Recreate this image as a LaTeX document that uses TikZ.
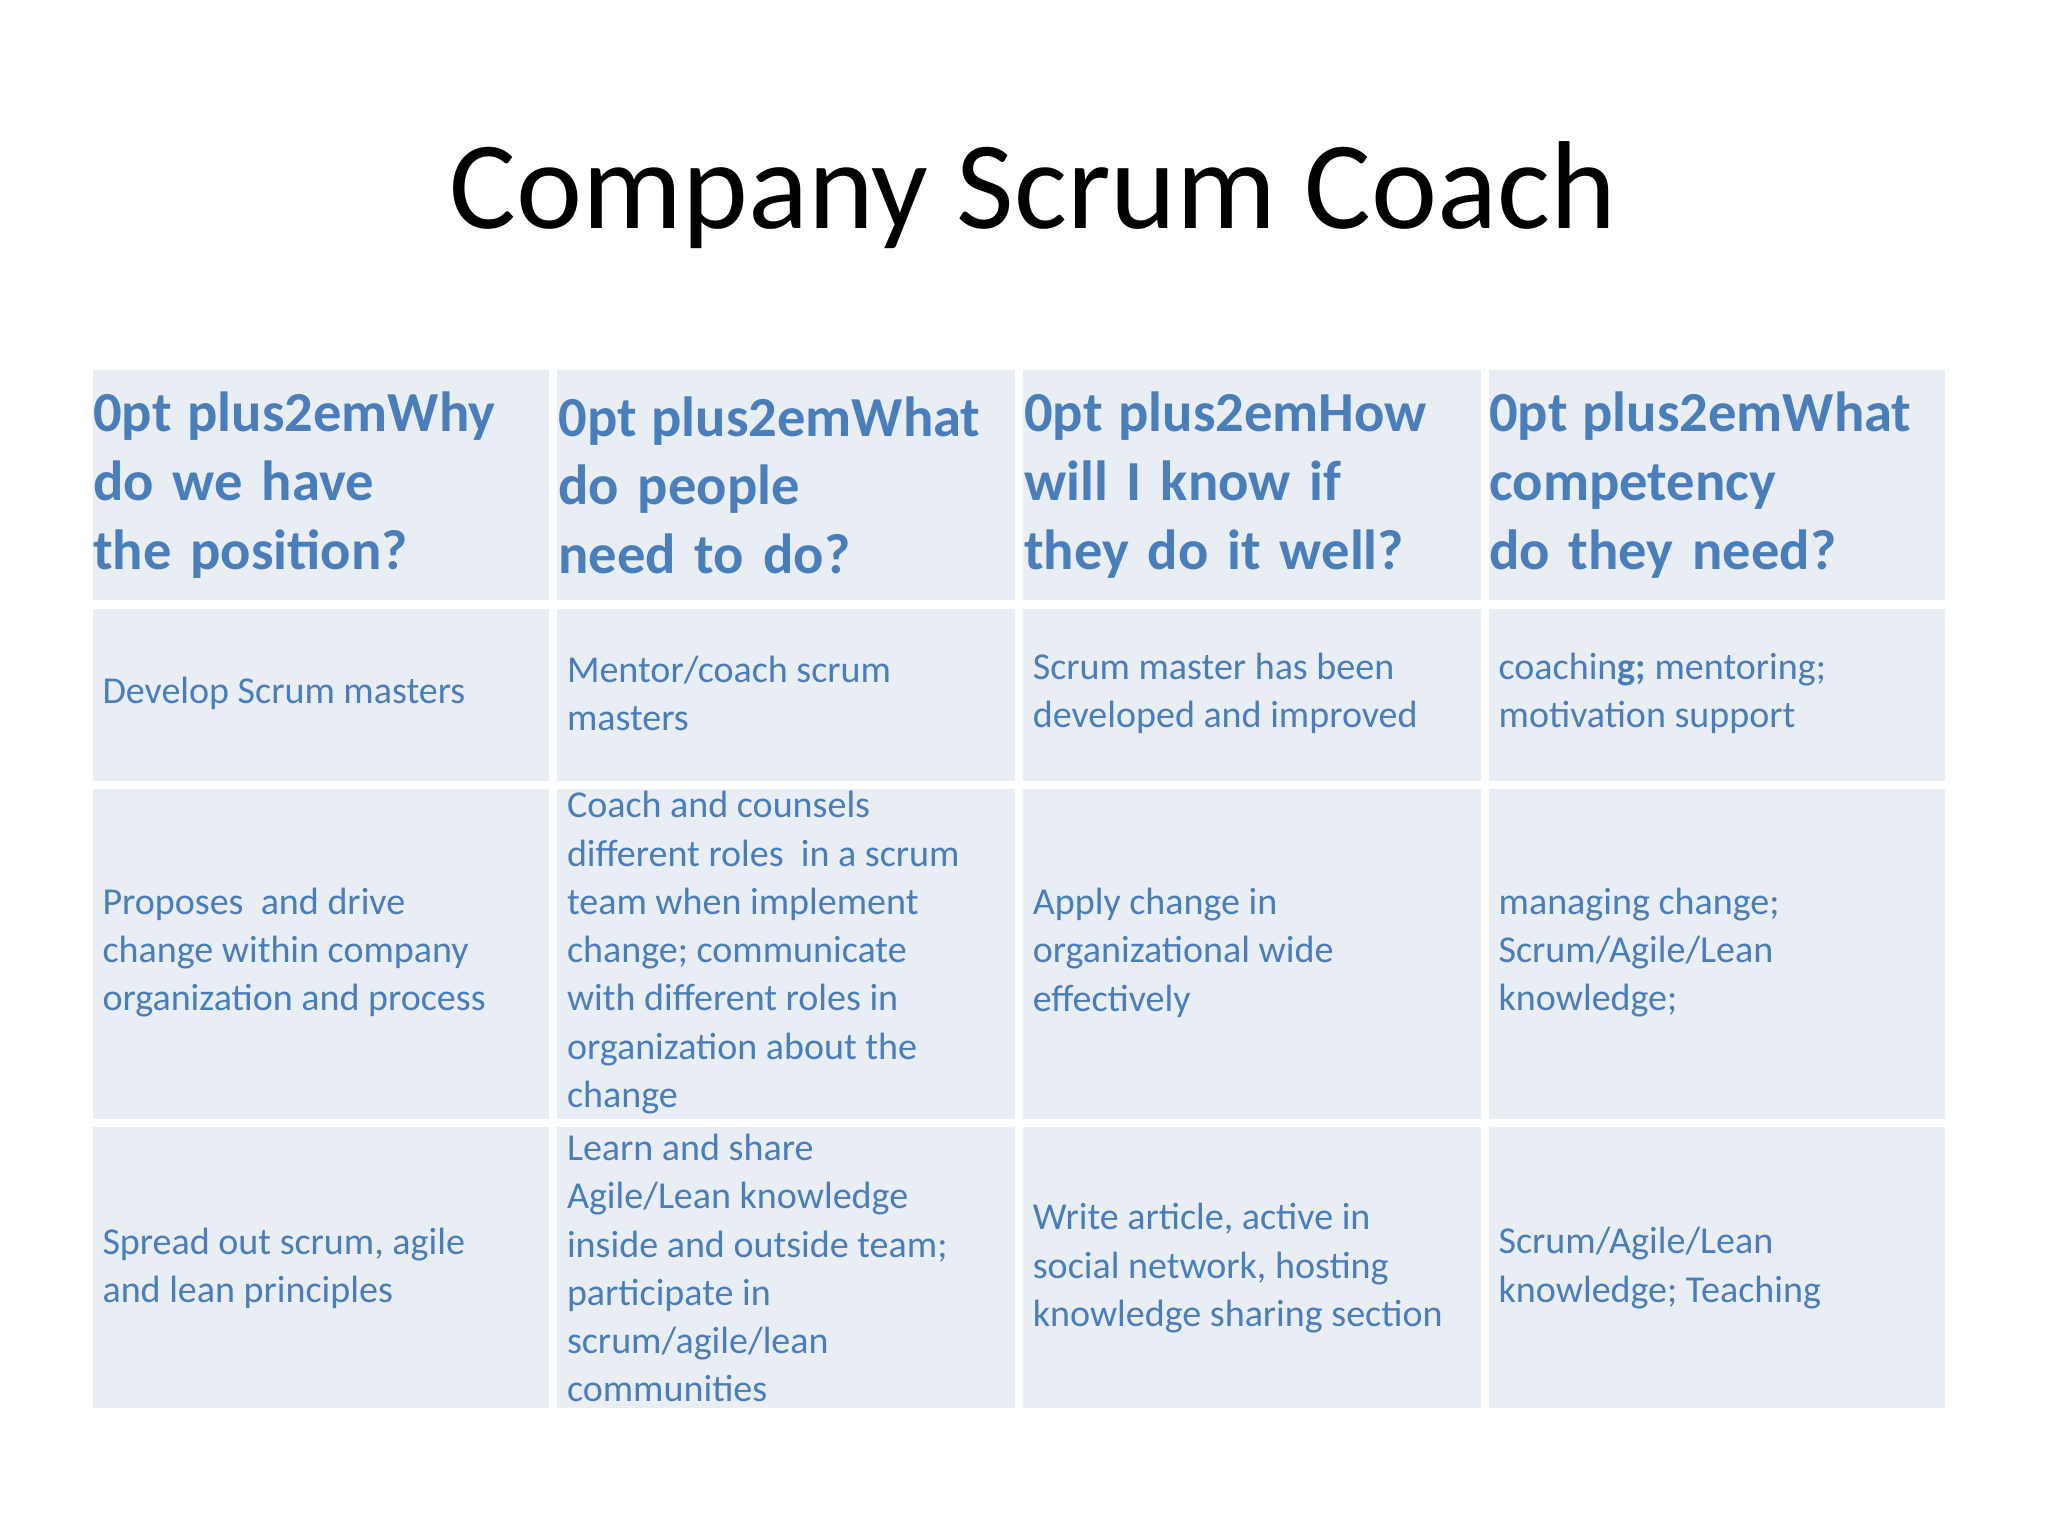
\documentclass[tikz,border=0pt]{standalone}
\usepackage{fontspec}
\setmainfont{Carlito}
\definecolor{cellbg}{HTML}{E9EDF4}
\definecolor{txt}{HTML}{4A7EBB}
\tikzset{
 cell/.style={rectangle,fill=cellbg,draw=white,line width=1.2pt,anchor=north west,inner sep=0pt,text=txt},
 head/.style={cell,font=\fontsize{12.2}{14.8}\selectfont\bfseries\hyphenpenalty=10000,align=center},
 body/.style={rectangle,inner sep=0pt,anchor=west,text=txt,font=\fontsize{8.2}{10.4}\selectfont,align=left},
}
\begin{document}
\begin{tikzpicture}[x=1cm,y=1cm]
\useasboundingbox[fill=white] (0,0) rectangle (15.52,-11.64);
\node[font=\fontsize{27}{32}\selectfont] (title) at (7.83,-1.48) {Company Scrum Coach};
\node[head,minimum width=3.5cm,minimum height=1.79cm,text width=3.45cm] (h1) at (0.66,-2.76) {Why do we have\\the position?};
\node[head,minimum width=3.51cm,minimum height=1.79cm,text width=3.45cm] (h2) at (4.18,-2.76) {What do people\\need to do?};
\node[head,minimum width=3.51cm,minimum height=1.79cm,text width=3.45cm] (h3) at (7.71,-2.76) {How will I know if\\they do it well?};
\node[head,minimum width=3.5cm,minimum height=1.79cm,text width=3.45cm] (h4) at (11.24,-2.76) {What competency\\do they need?};
% row 1
\node[cell,minimum width=3.5cm,minimum height=1.35cm] (r1a) at (0.66,-4.57) {};
\node[body] (t11) at (0.77,-5.255) {Develop Scrum masters};
\node[cell,minimum width=3.51cm,minimum height=1.35cm] (r1b) at (4.18,-4.57) {};
\node[body] (t12) at (4.29,-5.255) {Mentor/coach scrum\\masters};
\node[cell,minimum width=3.51cm,minimum height=1.35cm] (r1c) at (7.71,-4.57) {};
\node[body] (t13) at (7.82,-5.255) {Scrum master has been\\developed and improved};
\node[cell,minimum width=3.5cm,minimum height=1.35cm] (r1d) at (11.24,-4.57) {};
\node[body] (t14) at (11.35,-5.255) {coachin\textbf{g;} mentoring;\\motivation support};
% row 2
\node[cell,minimum width=3.5cm,minimum height=2.54cm] (r2a) at (0.66,-5.94) {};
\node[body] (t21) at (0.77,-7.22) {Proposes\ \ and drive\\change within company\\organization and process};
\node[cell,minimum width=3.51cm,minimum height=2.54cm] (r2b) at (4.18,-5.94) {};
\node[body] (t22) at (4.29,-7.22) {Coach and counsels\\different roles\ \ in a scrum\\team when implement\\change; communicate\\with different roles in\\organization about the\\change};
\node[cell,minimum width=3.51cm,minimum height=2.54cm] (r2c) at (7.71,-5.94) {};
\node[body] (t23) at (7.82,-7.22) {Apply change in\\organizational wide\\effectively};
\node[cell,minimum width=3.5cm,minimum height=2.54cm] (r2d) at (11.24,-5.94) {};
\node[body] (t24) at (11.35,-7.22) {managing change;\\Scrum/Agile/Lean\\knowledge;};
% row 3
\node[cell,minimum width=3.5cm,minimum height=2.17cm] (r3a) at (0.66,-8.50) {};
\node[body] (t31) at (0.77,-9.61) {Spread out scrum, agile\\and lean principles};
\node[cell,minimum width=3.51cm,minimum height=2.17cm] (r3b) at (4.18,-8.50) {};
\node[body] (t32) at (4.29,-9.61) {Learn and share\\Agile/Lean knowledge\\inside and outside team;\\participate in\\scrum/agile/lean\\communities};
\node[cell,minimum width=3.51cm,minimum height=2.17cm] (r3c) at (7.71,-8.50) {};
\node[body] (t33) at (7.82,-9.61) {Write article, active in\\social network, hosting\\knowledge sharing section};
\node[cell,minimum width=3.5cm,minimum height=2.17cm] (r3d) at (11.24,-8.50) {};
\node[body] (t34) at (11.35,-9.61) {Scrum/Agile/Lean\\knowledge; Teaching};
\end{tikzpicture}
\end{document}
